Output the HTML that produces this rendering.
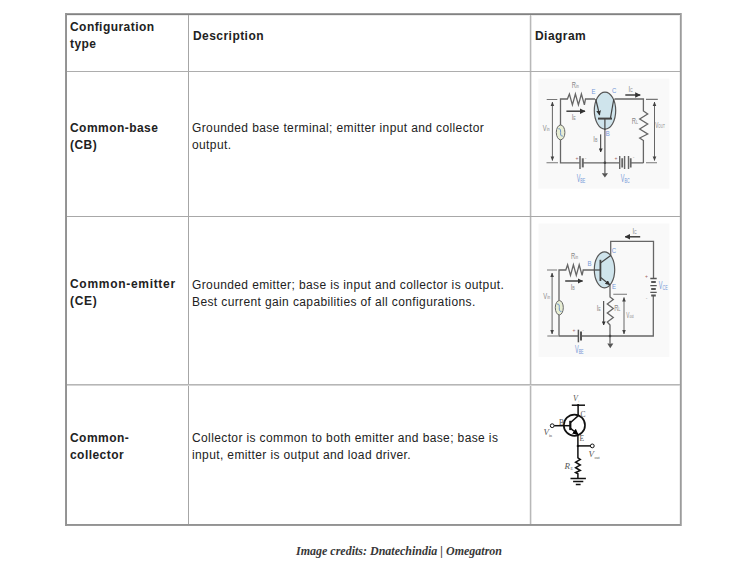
<!DOCTYPE html>
<html><head><meta charset="utf-8">
<style>
html,body{margin:0;padding:0;background:#fff;width:730px;height:563px;overflow:hidden;position:relative}
.ln{position:absolute}
.t{position:absolute;font-family:"Liberation Sans",sans-serif;font-size:12px;line-height:16.5px;color:#222;white-space:nowrap;letter-spacing:0.38px}
.b{font-weight:bold;color:#222;letter-spacing:0.45px}
.cap{position:absolute;font-family:"Liberation Serif",serif;font-size:12px;font-weight:bold;font-style:italic;color:#383838;white-space:nowrap;line-height:14px}
svg{position:absolute;overflow:visible}
</style></head><body>
<!-- outer border -->
<div class="ln" style="left:65px;top:13px;width:617px;height:1px;background:#9e9e9e"></div>
<div class="ln" style="left:65px;top:14px;width:617px;height:1px;background:#828282"></div>
<div class="ln" style="left:67px;top:15px;width:613px;height:1px;background:#ececec"></div>
<div class="ln" style="left:65px;top:524px;width:617px;height:1px;background:#939393"></div>
<div class="ln" style="left:65px;top:525px;width:617px;height:1px;background:#9a9a9a"></div>
<div class="ln" style="left:65px;top:13px;width:1px;height:513px;background:#979797"></div>
<div class="ln" style="left:66px;top:13px;width:1px;height:513px;background:#929292"></div>
<div class="ln" style="left:679px;top:15px;width:1px;height:509px;background:#f0f0f0"></div>
<div class="ln" style="left:680px;top:13px;width:1px;height:513px;background:#9c9c9c"></div>
<div class="ln" style="left:681px;top:13px;width:1px;height:513px;background:#b4b4b4"></div>
<!-- inner lines -->
<div class="ln" style="left:188px;top:15px;width:1px;height:509px;background:#a6a6a6"></div>
<div class="ln" style="left:529px;top:15px;width:1px;height:509px;background:#f0f0f0"></div>
<div class="ln" style="left:530px;top:15px;width:1px;height:509px;background:#b8b8b8"></div>
<div class="ln" style="left:531px;top:15px;width:1px;height:509px;background:#e6e6e6"></div>
<div class="ln" style="left:67px;top:71px;width:613px;height:1px;background:#adadad"></div>
<div class="ln" style="left:67px;top:216px;width:613px;height:1px;background:#a8a8a8"></div>
<div class="ln" style="left:67px;top:384px;width:613px;height:1px;background:#b6b6b6"></div>
<div class="ln" style="left:67px;top:385px;width:613px;height:1px;background:#d4d4d4"></div>
<!-- header -->
<div class="t b" style="left:70px;top:19px">Configuration<br>type</div>
<div class="t b" style="left:193px;top:28px">Description</div>
<div class="t b" style="left:535px;top:28px">Diagram</div>

<div class="t b" style="left:70px;top:120px">Common-base<br>(CB)</div>
<div class="t" style="left:192px;top:120px">Grounded base terminal; emitter input and collector<br>output.</div>

<div class="t b" style="left:70px;top:276px;letter-spacing:0.7px">Common-emitter<br>(CE)</div>
<div class="t" style="left:192px;top:277px">Grounded emitter; base is input and collector is output.<br>Best current gain capabilities of all configurations.</div>

<div class="t b" style="left:70px;top:430px">Common-<br>collector</div>
<div class="t" style="left:192px;top:430px">Collector is common to both emitter and base; base is<br>input, emitter is output and load driver.</div>

<div class="cap" style="left:296px;top:544px">Image credits: Dnatechindia | Omegatron</div>









<!--D1--><svg width="730" height="563" viewBox="0 0 730 563" style="left:0;top:0">
<defs>
<marker id="ah" viewBox="0 0 10 10" refX="9" refY="5" markerWidth="4" markerHeight="4" orient="auto"><path d="M0,0 L10,5 L0,10 z" fill="#333"/></marker>
<marker id="ahs" viewBox="0 0 10 10" refX="9" refY="5" markerWidth="5" markerHeight="5" orient="auto-start-reverse"><path d="M0,1 L10,5 L0,9 z" fill="#444"/></marker>
<marker id="ahb" viewBox="0 0 10 10" refX="9" refY="5" markerWidth="4" markerHeight="4" orient="auto"><path d="M0,0 L10,5 L0,10 z" fill="#000"/></marker>
</defs>
<g id="d1">
<rect x="538.3" y="78.7" width="131" height="110" fill="#f9f9f9"/>
<g fill="none" stroke="#666" stroke-width="1.3" stroke-linejoin="miter">
<path d="M560.5,125.4 V99 H567.4 L569.4,94 L572.4,104.8 L575.4,94 L578.4,104.8 L581.4,94 L584.4,104.8 L585.5,99 H595"/>
<path d="M614.5,99 H643.4 V111 L647.7,114 L639.7,119 L647.7,124 L639.7,129 L647.7,134 L639.7,138 L643.4,140.5 V163"/>
<path d="M560.5,139.5 V162.8 H580 M582.8,162.8 H619.7 M630.7,162.8 H643.4"/>
<path d="M604.9,118.6 V173.5"/>
</g>
<path d="M601.8,173.3 H608 L604.9,177.6 Z" fill="#555"/>
<circle cx="604.9" cy="162.8" r="1.3" fill="#444"/>
<ellipse cx="605" cy="110.6" rx="10.7" ry="18.5" fill="#cfe4ec" stroke="#555" stroke-width="1.2"/>
<g fill="none" stroke="#444" stroke-width="1.2">
<path d="M598,118.6 H612" stroke-width="2"/>
<path d="M595.7,99 L599.6,115" marker-end="url(#ah)"/>
<path d="M613.8,99 L610.4,118.3"/>
<path d="M604.9,118.6 V130"/>
</g>
<g fill="none" stroke="#777" stroke-width="1.1">
<path d="M546.7,99.5 H557.3 M546.5,162.8 H558 M646,99.4 H657.8 M646,162.8 H657"/>
<path d="M552.4,102 V160.5" marker-start="url(#ahs)" marker-end="url(#ahs)" stroke="#555" stroke-width="0.9"/>
<path d="M654.5,102 V160.5" marker-start="url(#ahs)" marker-end="url(#ahs)" stroke="#555" stroke-width="0.9"/>
</g>
<ellipse cx="560.6" cy="132.4" rx="4.3" ry="7.4" fill="#e8eed4" stroke="#666" stroke-width="1"/>
<path d="M558.4,128.8 C560.8,128.2 560.6,130.5 560.6,132.4 C560.6,134.3 560.4,136.6 562.8,136" fill="none" stroke="#6a90c8" stroke-width="1"/>
<g stroke="#333" stroke-width="1.4" fill="none">
<path d="M566.4,111.2 H585" marker-end="url(#ah)"/>
<path d="M625.3,95 H640.2" marker-end="url(#ah)"/>
<path d="M600.7,134.4 V152" marker-end="url(#ah)" stroke-width="1"/>
</g>
<g stroke="#666" fill="none">
<path d="M580,156 V169" stroke-width="1.5"/>
<path d="M582.8,158.3 V167.4" stroke-width="2"/>
<path d="M619.7,156 V169 M624.6,156 V169 M628.5,156 V169" stroke-width="1.4"/>
<path d="M622.2,158.3 V167.4 M630.7,158.3 V167.4" stroke-width="1.8"/>
</g>
<g font-family="Liberation Sans,sans-serif" font-size="8.5" fill="#888" text-anchor="middle">
<text x="575.4" y="88.5" transform="translate(575.4,0) scale(0.68,1) translate(-575.4,0)">R<tspan font-size="5.5">in</tspan></text>
<text x="573.8" y="120.5" transform="translate(573.8,0) scale(0.68,1) translate(-573.8,0)">I<tspan font-size="5.5">E</tspan></text>
<text x="630.6" y="92" transform="translate(630.6,0) scale(0.68,1) translate(-630.6,0)">I<tspan font-size="5.5">C</tspan></text>
<text x="634.9" y="124" transform="translate(634.9,0) scale(0.68,1) translate(-634.9,0)">R<tspan font-size="5.5">L</tspan></text>
<text x="546.3" y="130.8" transform="translate(546.1,0) scale(0.68,1) translate(-546.1,0)">V<tspan font-size="5.5">in</tspan></text>
<text x="660" y="128" transform="translate(660,0) scale(0.55,1) translate(-660,0)">V<tspan font-size="5.5">OUT</tspan></text>
<text x="595.4" y="142.5" transform="translate(595.4,0) scale(0.68,1) translate(-595.4,0)">I<tspan font-size="5.5">B</tspan></text>
</g>
<g font-family="Liberation Sans,sans-serif" font-size="8" fill="#7396d6" text-anchor="middle">
<text x="593.5" y="94" transform="translate(593.5,0) scale(0.75,1) translate(-593.5,0)">E</text>
<text x="614.1" y="93.5" transform="translate(614.1,0) scale(0.75,1) translate(-614.1,0)">C</text>
<text x="607.7" y="135.7" transform="translate(607.7,0) scale(0.75,1) translate(-607.7,0)">B</text>
<text x="581" y="182.3" font-size="11" transform="translate(581,0) scale(0.5,1) translate(-581,0)">V<tspan font-size="7.5" dy="0.9">BE</tspan></text>
<text x="625.2" y="182.3" font-size="11" transform="translate(625.2,0) scale(0.5,1) translate(-625.2,0)">V<tspan font-size="7.5" dy="0.9">BC</tspan></text>
<text x="577" y="160" fill="#a06060" font-size="5">+</text>
<text x="585.5" y="160" fill="#999" font-size="5">-</text>
<text x="616" y="160" fill="#a06060" font-size="5">+</text>
<text x="633.5" y="159" fill="#999" font-size="5">-</text>
</g>
</g>

<g id="d2">
<rect x="538.5" y="223.5" width="130.8" height="133.5" fill="#f9f9f9"/>
<g fill="none" stroke="#666" stroke-width="1.3">
<path d="M559,300.4 V270 H565.8 L567.6,264.8 L570.5,275.3 L573.4,264.8 L576.3,275.3 L579.2,264.8 L582.1,275.3 L583.2,270 H600.4"/>
<path d="M559,315 V336 H578.4 M581,336 H653.3 V296"/>
<path d="M653.5,278.5 V241.4 H610.7 V256"/>
<path d="M610,284.7 V297 L613.3,299.5 L607.3,304 L613.3,308.5 L607.3,313 L613.3,317.5 L607.3,322 L610,325 V343.6"/>
</g>
<path d="M607.3,343.4 H613.3 L610.3,348.3 Z" fill="#555"/>
<circle cx="610" cy="336" r="1.3" fill="#444"/>
<ellipse cx="604.5" cy="269.8" rx="10.2" ry="18" fill="#cfe4ec" stroke="#555" stroke-width="1.2"/>
<g fill="none" stroke="#444" stroke-width="1.2">
<path d="M594.4,270 H600.4"/>
<path d="M600.4,259.8 V281" stroke-width="1.8"/>
<path d="M600.4,262.9 L610.7,255.4"/>
<path d="M600.4,277.2 L609.7,284.7" marker-end="url(#ah)"/>
</g>
<g fill="none" stroke="#777" stroke-width="1.1">
<path d="M547,270 H557.1 M547.3,336 H558 M613.3,294.3 H627"/>
<path d="M552.1,273 V334" marker-start="url(#ahs)" marker-end="url(#ahs)" stroke="#555" stroke-width="0.9"/>
<path d="M624,297.5 V334" marker-start="url(#ahs)" marker-end="url(#ahs)" stroke="#555" stroke-width="0.9"/>
</g>
<ellipse cx="559.3" cy="307.7" rx="4" ry="7.2" fill="#e8eed4" stroke="#666" stroke-width="1"/>
<path d="M557.1,304.1 C559.5,303.5 559.3,305.8 559.3,307.7 C559.3,309.6 559.1,311.9 561.5,311.3" fill="none" stroke="#6a90c8" stroke-width="1"/>
<g stroke="#333" stroke-width="1.4" fill="none">
<path d="M565.2,281 H582.6" marker-end="url(#ah)"/>
<path d="M640.2,236.8 H625.2" marker-end="url(#ah)"/>
<path d="M603.7,301 V325" marker-end="url(#ah)" stroke-width="1"/>
</g>
<g stroke="#555" fill="none">
<path d="M578.4,329.7 V342.3" stroke-width="1.5"/>
<path d="M581,331.5 V340.5" stroke-width="2"/>
<path d="M650.3,278.5 H656.7 M650.3,285.7 H656.7 M650.3,292.3 H656.7" stroke-width="1.3"/>
<path d="M651.2,282 H655.8 M651.2,289 H655.8 M651.2,295.4 H655.8" stroke-width="2"/>
</g>
<g font-family="Liberation Sans,sans-serif" font-size="8.5" fill="#888" text-anchor="middle">
<text x="574.5" y="259.5" transform="translate(574.5,0) scale(0.68,1) translate(-574.5,0)">R<tspan font-size="5.5">in</tspan></text>
<text x="572.7" y="290" transform="translate(572.7,0) scale(0.68,1) translate(-572.7,0)">I<tspan font-size="5.5">B</tspan></text>
<text x="634.6" y="234" transform="translate(634.6,0) scale(0.68,1) translate(-634.6,0)">I<tspan font-size="5.5">C</tspan></text>
<text x="546.7" y="299" transform="translate(546.7,0) scale(0.68,1) translate(-546.7,0)">V<tspan font-size="5.5">in</tspan></text>
<text x="598.7" y="311" transform="translate(598.7,0) scale(0.68,1) translate(-598.7,0)">I<tspan font-size="5.5">E</tspan></text>
<text x="617.3" y="311" transform="translate(617.3,0) scale(0.68,1) translate(-617.3,0)">R<tspan font-size="5.5">L</tspan></text>
<text x="630" y="318.5" transform="translate(630,0) scale(0.55,1) translate(-630,0)">V<tspan font-size="5.5">out</tspan></text>
</g>
<g font-family="Liberation Sans,sans-serif" font-size="8" fill="#7396d6" text-anchor="middle">
<text x="589.5" y="266" transform="translate(589.5,0) scale(0.75,1) translate(-589.5,0)">B</text>
<text x="614" y="253" transform="translate(614,0) scale(0.75,1) translate(-614,0)">C</text>
<text x="614" y="289" transform="translate(614,0) scale(0.75,1) translate(-614,0)">E</text>
<text x="663.2" y="289" font-size="11" transform="translate(663.2,0) scale(0.5,1) translate(-663.2,0)">V<tspan font-size="7.5" dy="0.9">CE</tspan></text>
<text x="579.3" y="353.5" font-size="11" transform="translate(579.3,0) scale(0.5,1) translate(-579.3,0)">V<tspan font-size="7.5" dy="0.9">BE</tspan></text>
<text x="574" y="332" fill="#a06060" font-size="5">+</text>
<text x="583" y="332" fill="#999" font-size="5">-</text>
<text x="646.4" y="278" fill="#a06060" font-size="5">+</text>
<text x="646.6" y="299.5" fill="#999" font-size="5">-</text>
</g>
</g>

<g id="d3">
<g fill="none" stroke="#111" stroke-width="1.5">
<path d="M571.8,405.2 H585"/>
<path d="M578.1,405.2 V415.9 L570.3,422.7"/>
<circle cx="574.4" cy="425.2" r="10.6" stroke-width="1.7"/>
<path d="M570.3,420.8 V430.1" stroke-width="2.2"/>
<path d="M554.2,425.7 H570.3"/>
<path d="M570.3,428.1 L578.1,434.5" marker-end="url(#ahb)"/>
<path d="M577.9,434.5 V457.9 L580.3,459.5 L575.6,462.2 L580.3,465 L575.6,467.7 L580.3,470.5 L575.6,472.6 L577.9,473.8 V478.5"/>
<path d="M577.9,445.9 H590.4"/>
<path d="M570.5,478.5 H585.9 M573.1,481.6 H583.3 M575.8,484.6 H580.6"/>
<circle cx="552.2" cy="425.7" r="1.9" stroke-width="1"/>
<circle cx="592.3" cy="445.9" r="1.9" stroke-width="1"/>
</g>
<circle cx="578.1" cy="405.2" r="1.1" fill="#111"/>
<circle cx="577.9" cy="445.9" r="1.2" fill="#111"/>
<g font-family="Liberation Serif,serif" fill="#555">
<text x="573" y="400.5" font-size="8" font-style="italic">V</text>
<text x="577.6" y="403" font-size="4.5">+</text>
<text x="559" y="425" font-size="7.5">B</text>
<text x="580.5" y="417" font-size="7.5">C</text>
<text x="579.5" y="441" font-size="7.5">E</text>
<text x="543.5" y="435" font-size="9" font-style="italic">V</text>
<text x="549" y="436.5" font-size="4">in</text>
<text x="588.5" y="457.3" font-size="9" font-style="italic">V</text>
<text x="594.5" y="458.5" font-size="4">out</text>
<text x="564.5" y="468.8" font-size="9" font-style="italic">R</text>
<text x="570.5" y="470.3" font-size="4">E</text>
</g>
</g>
</svg>
<!--/D1-->
</body></html>
